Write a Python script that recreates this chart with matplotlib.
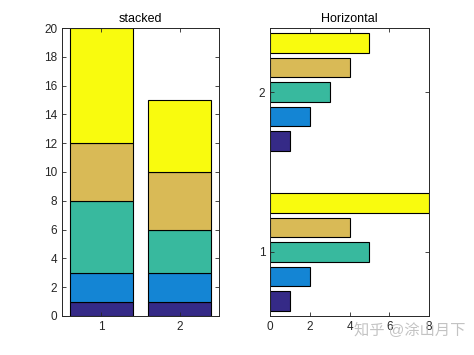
import numpy as np
import matplotlib
matplotlib.use("Agg")
import matplotlib.pyplot as plt

plt.rcParams["font.family"] = ["Liberation Sans", "Noto Sans CJK SC", "DejaVu Sans"]

groups = [1, 2]
series = [
    [1, 1],
    [2, 2],
    [5, 3],
    [4, 4],
    [8, 5],
]
colors = ["#352A87", "#1485D4", "#38B99E", "#D9BA56", "#F9FB0E"]
axis_color = "#262626"

fig = plt.figure(figsize=(4.74, 3.55), dpi=100)
ax1 = fig.add_axes([0.131, 0.110, 0.331, 0.811])
ax2 = fig.add_axes([0.570, 0.110, 0.335, 0.811])

# stacked
bottom = np.zeros(len(groups))
for vals, c in zip(series, colors):
    ax1.bar(groups, vals, width=0.8, bottom=bottom, color=c,
            edgecolor="black", linewidth=0.8)
    bottom += np.array(vals)
ax1.set_xlim(0.5, 2.5)
ax1.set_ylim(0, 20)
ax1.set_xticks(groups)
ax1.set_yticks(np.arange(0, 21, 2))
ax1.set_title("stacked", fontsize=9, color="black", pad=4)

# horizontal grouped
n = len(series)
gw = min(0.8, n / (n + 1.5))
slot = gw / n
for i, (vals, c) in enumerate(zip(series, colors)):
    off = -gw / 2 + slot * (i + 0.5)
    ax2.barh(np.array(groups) + off, vals, height=slot * 0.8, color=c,
             edgecolor="black", linewidth=0.8)
ax2.set_ylim(0.6, 2.4)
ax2.set_xlim(0, 8)
ax2.set_yticks(groups)
ax2.set_xticks(np.arange(0, 9, 2))
ax2.set_title("Horizontal", fontsize=9, color="black", pad=4)

for ax in (ax1, ax2):
    ax.tick_params(direction="in", top=True, right=True, length=3,
                   labelsize=8.5, colors=axis_color, width=0.6)
    for s in ax.spines.values():
        s.set_color(axis_color)
        s.set_linewidth(0.7)

fig.text(0.865, 0.07, "知乎 @涂山月下", fontsize=11, color="#bdbdbd",
         ha="center", va="center", alpha=0.9)

fig.savefig("out.png", dpi=100)
